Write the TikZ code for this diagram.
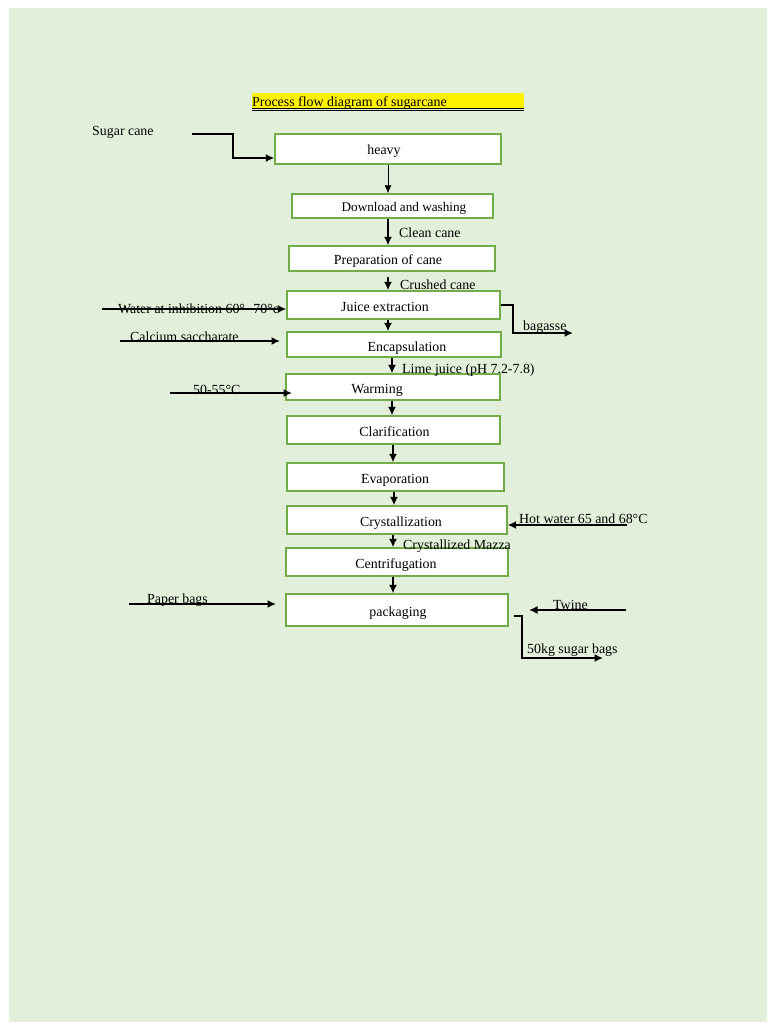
\documentclass[tikz,border=0pt]{standalone}
\usepackage{fontspec}
\setmainfont{Liberation Serif}
\usetikzlibrary{arrows.meta,calc}
\definecolor{bgg}{HTML}{E2EFDA}
\definecolor{bxg}{HTML}{70AD47}
\begin{document}
\begin{tikzpicture}[x=1pt,y=-1pt,
  every node/.style={font=\fontsize{13.9}{16}\selectfont, inner sep=0pt},
  box/.style={draw=bxg, line width=1.3pt, fill=white, inner sep=0pt},
  lbl/.style={anchor=base},
  side/.style={anchor=base west},
  arr/.style={line width=1.6pt, -{Latex[length=8.5pt,width=8pt]}},
  arrthin/.style={line width=0.8pt, -{Latex[length=8pt,width=7pt]}}]
\useasboundingbox (0,0) rectangle (768,1024);
\fill[white] (0,0) rectangle (768,1024);
\fill[bgg] (9,8) rectangle (767,1022);

% title
\fill[yellow] (252,93) rectangle (524,109.5);
\node[side] (title) at (252,106.3) {Process flow diagram of sugarcane};
\draw[line width=0.9pt] (252,108.2) -- (524,108.2);
\draw[line width=0.7pt] (252,110.6) -- (524,110.6);

% boxes
\node[box, minimum width=226pt, minimum height=30pt] (b1) at (388,149) {};
\node[box, minimum width=201pt, minimum height=24pt] (b2) at (392.5,206) {};
\node[box, minimum width=206pt, minimum height=25pt] (b3) at (392,258.5) {};
\node[box, minimum width=213pt, minimum height=28pt] (b4) at (393.5,305) {};
\node[box, minimum width=214pt, minimum height=25pt] (b5) at (394,344.5) {};
\node[box, minimum width=214pt, minimum height=26pt] (b6) at (393,387) {};
\node[box, minimum width=213pt, minimum height=28pt] (b7) at (393.5,430) {};
\node[box, minimum width=217pt, minimum height=28pt] (b8) at (395.5,477) {};
\node[box, minimum width=220pt, minimum height=28pt] (b9) at (397,520) {};
\node[box, minimum width=222pt, minimum height=28pt] (b10) at (397,562) {};
\node[box, minimum width=222pt, minimum height=32pt] (b11) at (397,610) {};

% box texts
\node[lbl] (t1) at (384,155) {heavy};
\node[lbl, font=\fontsize{13.2}{15}\selectfont] (t2) at (404,212) {Download and washing};
\node[lbl] (t3) at (388,264.5) {Preparation of cane};
\node[lbl] (t4) at (385,311.5) {Juice extraction};
\node[lbl] (t5) at (407,351) {Encapsulation};
\node[lbl] (t6) at (377,393.5) {Warming};
\node[lbl] (t7) at (394.5,436.5) {Clarification};
\node[lbl] (t8) at (395,483) {Evaporation};
\node[lbl] (t9) at (401,526.5) {Crystallization};
\node[lbl] (t10) at (396,568.5) {Centrifugation};
\node[lbl] (t11) at (398,616.5) {packaging};

% column coordinates
\coordinate (x388) at (388,0);
\coordinate (x392) at (392,0);
\coordinate (x393) at (393,0);
\coordinate (x394) at (394,0);

% main flow
\draw[arrthin] (b1.south -| x388) -- (b2.north -| x388);
\draw[arr] (b2.south -| x388) -- (b3.north -| x388);
\draw[arr] ($(b3.south -| x388)+(0,5)$) -- (b4.north -| x388);
\draw[arr] (b4.south -| x388) -- (b5.north -| x388);
\draw[arr] (b5.south -| x392) -- (b6.north -| x392);
\draw[arr] (b6.south -| x392) -- (b7.north -| x392);
\draw[arr] (b7.south -| x393) -- (b8.north -| x393);
\draw[arr] (b8.south -| x394) -- (b9.north -| x394);
\draw[arr] (b9.south -| x393) -- (b10.north -| x393);
\draw[arr] (b10.south -| x393) -- (b11.north -| x393);

% side labels
\node[side] (lsc) at (92,136) {Sugar cane};
\node[side] (lclean) at (399,237.5) {Clean cane};
\node[side] (lcrush) at (400,289) {Crushed cane};
\node[side] (lwater) at (118,313.5) {Water at inhibition 60°\hspace{0.6em}70°c};
\node[side] (lcal) at (130,341) {Calcium saccharate};
\node[side] (lbag) at (523,330) {bagasse};
\node[side] (llime) at (402,373) {Lime juice (pH 7.2-7.8)};
\node[side] (ltemp) at (193,394) {50-55°C};
\node[side] (lhot) at (519,523) {Hot water 65 and 68°C};
\node[side] (lmazza) at (403,549) {Crystallized Mazza};
\node[side] (lpaper) at (147,603) {Paper bags};
\node[side] (ltwine) at (553,609) {Twine};
\node[side] (lkg) at (527,653) {50kg sugar bags};

% free ends
\coordinate (scA) at (192,134);
\coordinate (scB) at (233,158);
\coordinate (wA) at (102,309);
\coordinate (cA) at (120,341);
\coordinate (cB) at (280,341);
\coordinate (tA) at (170,393);
\coordinate (tB) at (292,393);
\coordinate (bgA) at (513,333);
\coordinate (bgB) at (573,333);
\coordinate (hA) at (627,525);
\coordinate (pA) at (129,604);
\coordinate (pB) at (276,604);
\coordinate (twA) at (626,610);
\coordinate (twB) at (529,610);
\coordinate (kA) at (514,616);
\coordinate (kB) at (522,658);
\coordinate (kC) at (603,658);

% side connectors
\draw[arr] (scA) -| (scB) -- (scB -| b1.west);
\draw[arr] (wA) -- (wA -| b4.west);
\draw[arr] (cA) -- (cB);
\draw[arr] (tA) -- (tB);
\draw[arr] (b4.east) -| (bgA) -- (bgB);
\draw[arr] (hA) -- (hA -| b9.east);
\draw[arr] (pA) -- (pB);
\draw[arr] (twA) -- (twB);
\draw[arr] (kA) -| (kB) -- (kC);
\end{tikzpicture}
\end{document}
